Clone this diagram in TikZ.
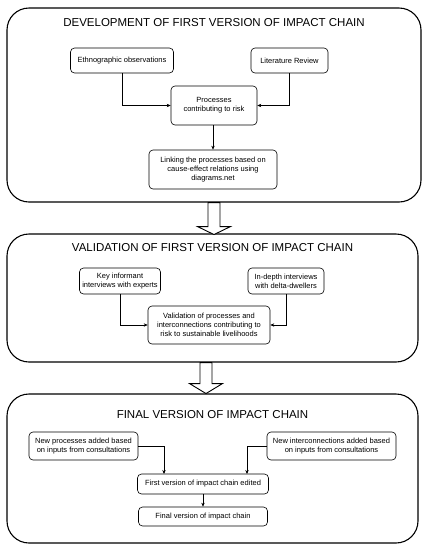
\documentclass[tikz,border=0pt]{standalone}
\usepackage{fontspec}
\setmainfont{Liberation Sans}
\usetikzlibrary{arrows.meta}
\tikzset{
	panel/.style={draw,line width=1.1,rounded corners=22pt,inner sep=0pt},
	panelhead/.style={font=\fontsize{11.5}{14}\selectfont},
	stepbox/.style={draw,line width=0.6,rounded corners=4pt,align=center,inner sep=1pt,font=\fontsize{7.5}{9}\selectfont},
	link/.style={line width=0.6,-{Stealth[length=4pt,width=3.4pt]}},
	bigarrow/.style={draw,line width=0.9,fill=white,line join=miter}
}
\begin{document}
\begin{tikzpicture}[x=1pt,y=-1pt]
		\useasboundingbox (0,0) rectangle (427,550);
		% development
		\node [panel,minimum width=414,minimum height=194] (dev) at (214,105) {};
		\node [panelhead] (devhead) at (214,23) {DEVELOPMENT OF FIRST VERSION OF IMPACT CHAIN};
		\node [stepbox,minimum width=103,minimum height=25] (ethno) at (122,60.5) {Ethnographic observations};
		\node [stepbox,minimum width=77,minimum height=25] (lit) at (289.5,60.5) {Literature Review};
		\node [stepbox,minimum width=86,minimum height=39] (proc) at (214,105.5) {Processes\\contributing to risk};
		\node [stepbox,minimum width=128,minimum height=39] (linking) at (213,169.5) {Linking the processes based on\\cause-effect relations using\\diagrams.net};
		\draw [link] (ethno.south) |- (proc.west);
		\draw [link] (lit.south) |- (proc.east);
		\draw [link] (linking.north |- proc.south) -- (linking.north);
		% validation
		\node [panel,minimum width=411,minimum height=128] (valid) at (212.5,298) {};
		\node [panelhead] (validhead) at (212.5,248) {VALIDATION OF FIRST VERSION OF IMPACT CHAIN};
		\node [stepbox,minimum width=81,minimum height=26] (key) at (120,281) {Key informant\\interviews with experts};
		\node [stepbox,minimum width=76,minimum height=26] (depth) at (286,281) {In-depth interviews\\with delta-dwellers};
		\node [stepbox,minimum width=122,minimum height=38] (check) at (209,325) {Validation of processes and\\interconnections contributing to\\risk to sustainable livelihoods};
		\draw [link] (key.south) |- (check.west);
		\draw [link] (depth.south) |- (check.east);
		% final version
		\node [panel,minimum width=411,minimum height=149] (fin) at (212.5,468.5) {};
		\node [panelhead] (finhead) at (212.5,415) {FINAL VERSION OF IMPACT CHAIN};
		\node [stepbox,minimum width=109,minimum height=28] (newproc) at (83.5,446) {New processes added based\\on inputs from consultations};
		\node [stepbox,minimum width=129,minimum height=28] (newint) at (331.5,446) {New interconnections added based\\on inputs from consultations};
		\node [stepbox,minimum width=131,minimum height=20] (edited) at (203,484) {First version of impact chain edited};
		\node [stepbox,minimum width=129,minimum height=19] (final) at (203,516.5) {Final version of impact chain};
		\coordinate (E1) at (164,474);
		\coordinate (E2) at (247,474);
		\draw [link] (newproc.east) -| (E1);
		\draw [link] (newint.west) -| (E2);
		\draw [link] (edited) -- (final);
		% hollow arrows between the stages
		\draw [bigarrow] ([xshift=-6]dev.south) -- ++(0,24) -- ++(-10.5,0) -- ++(16.5,8) -- ++(16.5,-8) -- ++(-10.5,0) -- ++(0,-24) -- cycle;
		\draw [bigarrow] ([xshift=-12.5]valid.south) -- ++(0,21) -- ++(-10.5,0) -- ++(16.5,10) -- ++(16.5,-10) -- ++(-10.5,0) -- ++(0,-21) -- cycle;
	\end{tikzpicture}
\end{document}
